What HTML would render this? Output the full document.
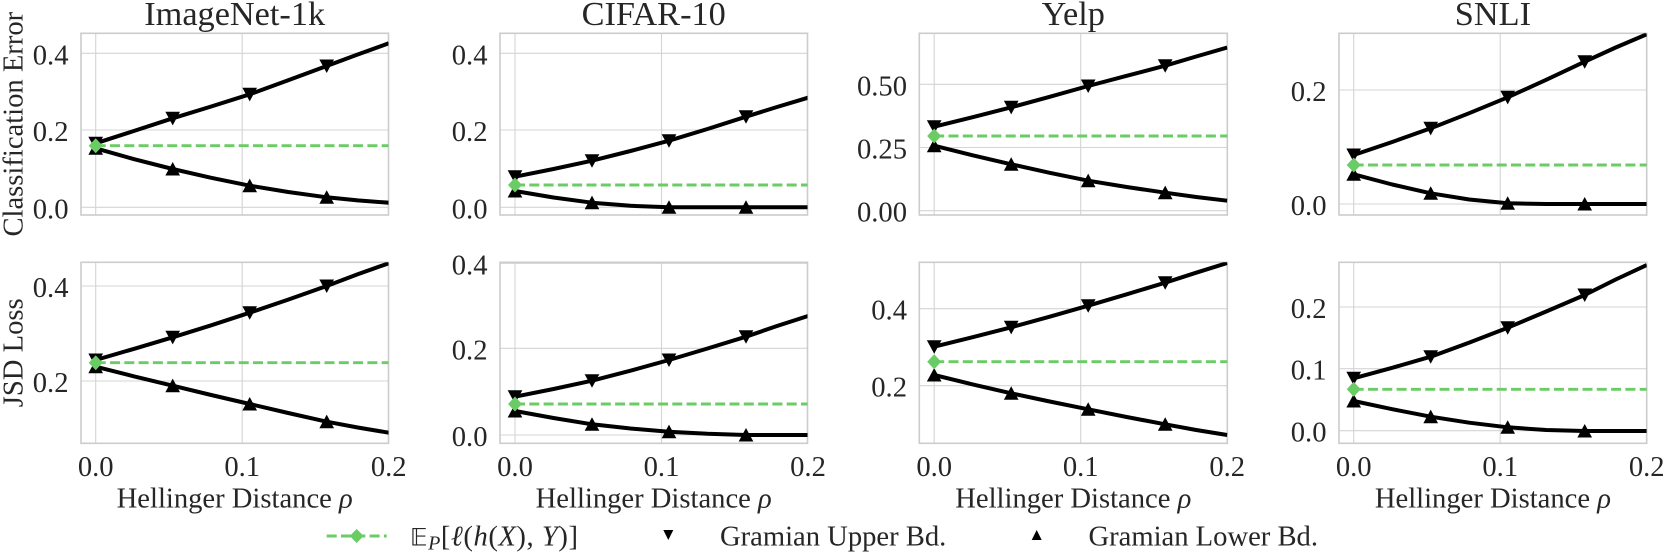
<!DOCTYPE html>
<html><head><meta charset="utf-8"><style>
html,body{margin:0;padding:0;background:#fff;}
svg{display:block;}
svg text, svg tspan{font-family:"Liberation Serif","DejaVu Serif",serif !important;fill:#262626;}
svg tspan.bb{font-family:"DejaVu Sans",sans-serif !important;}
</style></head><body>
<svg width="1666" height="553" viewBox="0 0 1666 553" xmlns="http://www.w3.org/2000/svg" font-family="'Liberation Serif', serif">
<defs>
<path id="td" d="M-6.5,-6 L6.5,-6 L0,6 Z" fill="#000" stroke="#000" stroke-width="1"/>
<path id="tu" d="M-6.5,6 L6.5,6 L0,-6 Z" fill="#000" stroke="#000" stroke-width="1"/>
<path id="dm" d="M0,-7.5 L7,0 L0,7.5 L-7,0 Z" fill="#6acc64"/>
<path id="tdl" d="M-5,-5 L5,-5 L0,5 Z" fill="#000"/>
<path id="tul" d="M-5,5 L5,5 L0,-5 Z" fill="#000"/>
<path id="dml" d="M0,-7 L7,0 L0,7 L-7,0 Z" fill="#6acc64"/>
<clipPath id="c1"><rect x="81" y="33.3" width="307.5" height="181.7"/></clipPath>
<clipPath id="c2"><rect x="500" y="33.3" width="307.5" height="181.7"/></clipPath>
<clipPath id="c3"><rect x="919.3" y="33.3" width="308" height="181.7"/></clipPath>
<clipPath id="c4"><rect x="1339" y="33.3" width="307.7" height="181.7"/></clipPath>
<clipPath id="c5"><rect x="81" y="262.3" width="307.5" height="181"/></clipPath>
<clipPath id="c6"><rect x="500" y="262.3" width="307.5" height="181"/></clipPath>
<clipPath id="c7"><rect x="919.3" y="262.3" width="308" height="181"/></clipPath>
<clipPath id="c8"><rect x="1339" y="262.3" width="307.7" height="181"/></clipPath>
</defs>
<rect x="0" y="0" width="1666" height="553" fill="#fff"/>

<!-- grids -->
<g stroke="#d4d4d4" stroke-width="1.1" fill="none">
<line x1="95.7" y1="33.3" x2="95.7" y2="215"/><line x1="242.2" y1="33.3" x2="242.2" y2="215"/>
<line x1="81" y1="207.3" x2="388.5" y2="207.3"/><line x1="81" y1="130" x2="388.5" y2="130"/><line x1="81" y1="53.3" x2="388.5" y2="53.3"/>
<line x1="515" y1="33.3" x2="515" y2="215"/><line x1="661.5" y1="33.3" x2="661.5" y2="215"/>
<line x1="500" y1="207.3" x2="807.5" y2="207.3"/><line x1="500" y1="130" x2="807.5" y2="130"/><line x1="500" y1="53.3" x2="807.5" y2="53.3"/>
<line x1="934.2" y1="33.3" x2="934.2" y2="215"/><line x1="1080.7" y1="33.3" x2="1080.7" y2="215"/>
<line x1="919.3" y1="210.7" x2="1227.3" y2="210.7"/><line x1="919.3" y1="147.5" x2="1227.3" y2="147.5"/><line x1="919.3" y1="84.3" x2="1227.3" y2="84.3"/>
<line x1="1353.7" y1="33.3" x2="1353.7" y2="215"/><line x1="1500.2" y1="33.3" x2="1500.2" y2="215"/>
<line x1="1339" y1="204" x2="1646.7" y2="204"/><line x1="1339" y1="90" x2="1646.7" y2="90"/>
<line x1="95.7" y1="262.3" x2="95.7" y2="443.3"/><line x1="242.2" y1="262.3" x2="242.2" y2="443.3"/>
<line x1="81" y1="381" x2="388.5" y2="381"/><line x1="81" y1="286" x2="388.5" y2="286"/>
<line x1="515" y1="262.3" x2="515" y2="443.3"/><line x1="661.5" y1="262.3" x2="661.5" y2="443.3"/>
<line x1="500" y1="435" x2="807.5" y2="435"/><line x1="500" y1="348.3" x2="807.5" y2="348.3"/><line x1="500" y1="263.3" x2="807.5" y2="263.3"/>
<line x1="934.2" y1="262.3" x2="934.2" y2="443.3"/><line x1="1080.7" y1="262.3" x2="1080.7" y2="443.3"/>
<line x1="919.3" y1="385.7" x2="1227.3" y2="385.7"/><line x1="919.3" y1="308.7" x2="1227.3" y2="308.7"/>
<line x1="1353.7" y1="262.3" x2="1353.7" y2="443.3"/><line x1="1500.2" y1="262.3" x2="1500.2" y2="443.3"/>
<line x1="1339" y1="430.7" x2="1646.7" y2="430.7"/><line x1="1339" y1="368.7" x2="1646.7" y2="368.7"/><line x1="1339" y1="307" x2="1646.7" y2="307"/>
</g>

<!-- frames -->
<g stroke="#cccccc" stroke-width="1.6" fill="none">
<rect x="81" y="33.3" width="307.5" height="181.7"/>
<rect x="500" y="33.3" width="307.5" height="181.7"/>
<rect x="919.3" y="33.3" width="308" height="181.7"/>
<rect x="1339" y="33.3" width="307.7" height="181.7"/>
<rect x="81" y="262.3" width="307.5" height="181"/>
<rect x="500" y="262.3" width="307.5" height="181"/>
<rect x="919.3" y="262.3" width="308" height="181"/>
<rect x="1339" y="262.3" width="307.7" height="181"/>
</g>

<!-- series -->
<g fill="none" stroke="#000" stroke-width="4" stroke-linejoin="round">
<g clip-path="url(#c1)">
<polyline points="95.7,143.3 134.2,130.9 172.7,118.3 211.2,106.5 249.7,94.3 288.2,80.3 326.7,66 357.7,54.5 388.7,43.3"/>
<polyline points="95.7,148.3 134.2,159.2 172.7,169 211.2,177.8 249.7,185.7 288.2,192 326.7,197.3 357.7,200.4 388.7,202.7"/>
</g>
<g clip-path="url(#c2)">
<polyline points="515,176.7 553.5,169 592,160.7 630.5,151 669,140.7 707.5,129 746,116.7 777,107 808,97.7"/>
<polyline points="515,191 553.5,197.5 592,202.7 630.5,205.8 669,207.3 707.5,207.3 746,207.3 777,207.3 808,207.3"/>
</g>
<g clip-path="url(#c3)">
<polyline points="934.2,126.7 972.7,117.2 1011.2,107.3 1049.7,96.8 1088.2,86 1126.7,75.8 1165.2,65.7 1196.2,56.5 1227.2,47.5"/>
<polyline points="934.2,145.7 972.7,155.3 1011.2,164.3 1049.7,172.8 1088.2,180.7 1126.7,187 1165.2,192.7 1196.2,197 1227.2,200.7"/>
</g>
<g clip-path="url(#c4)">
<polyline points="1353.7,155 1392.2,142 1430.7,128.3 1469.2,113.2 1507.7,97.3 1546.2,79.8 1584.7,61.7 1615.7,47.5 1646.7,34.3"/>
<polyline points="1353.7,174.3 1392.2,184.5 1430.7,193.3 1469.2,199.5 1507.7,203.3 1546.2,204 1584.7,204 1615.7,204 1646.7,204"/>
</g>
<g clip-path="url(#c5)">
<polyline points="95.7,360 134.2,348.8 172.7,337.3 211.2,325.3 249.7,312.7 288.2,299.6 326.7,286 357.7,274.3 388.7,263.3"/>
<polyline points="95.7,366.7 134.2,376.4 172.7,385.7 211.2,395 249.7,404 288.2,413 326.7,421.7 357.7,427.5 388.7,432.7"/>
</g>
<g clip-path="url(#c6)">
<polyline points="515,396.7 553.5,389 592,380.7 630.5,370.7 669,360 707.5,348.5 746,336.7 777,326 808,316"/>
<polyline points="515,411 553.5,418 592,424.3 630.5,428.5 669,431.7 707.5,433.8 746,435 777,435 808,435"/>
</g>
<g clip-path="url(#c7)">
<polyline points="934.2,346.7 972.7,337.2 1011.2,327.3 1049.7,316.7 1088.2,305.7 1126.7,294.3 1165.2,282.7 1196.2,272.7 1227.2,263"/>
<polyline points="934.2,375 972.7,384.4 1011.2,393.3 1049.7,401.5 1088.2,409.3 1126.7,417 1165.2,424.3 1196.2,430 1227.2,435"/>
</g>
<g clip-path="url(#c8)">
<polyline points="1353.7,378.3 1392.2,367.8 1430.7,356.7 1469.2,342.6 1507.7,327.7 1546.2,311.5 1584.7,295 1615.7,279.5 1646.7,265"/>
<polyline points="1353.7,401 1392.2,409.2 1430.7,416.7 1469.2,422.7 1507.7,427.3 1546.2,430 1584.7,431 1615.7,431 1646.7,431"/>
</g>
</g>

<!-- black markers -->
<g>
<use href="#td" x="95.7" y="143.3"/><use href="#td" x="172.7" y="118.3"/><use href="#td" x="249.7" y="94.3"/><use href="#td" x="326.7" y="66"/>
<use href="#tu" x="95.7" y="148.3"/><use href="#tu" x="172.7" y="169"/><use href="#tu" x="249.7" y="185.7"/><use href="#tu" x="326.7" y="197.3"/>
<use href="#td" x="515" y="176.7"/><use href="#td" x="592" y="160.7"/><use href="#td" x="669" y="140.7"/><use href="#td" x="746" y="116.7"/>
<use href="#tu" x="515" y="191"/><use href="#tu" x="592" y="202.7"/><use href="#tu" x="669" y="207.3"/><use href="#tu" x="746" y="207.3"/>
<use href="#td" x="934.2" y="126.7"/><use href="#td" x="1011.2" y="107.3"/><use href="#td" x="1088.2" y="86"/><use href="#td" x="1165.2" y="65.7"/>
<use href="#tu" x="934.2" y="145.7"/><use href="#tu" x="1011.2" y="164.3"/><use href="#tu" x="1088.2" y="180.7"/><use href="#tu" x="1165.2" y="192.7"/>
<use href="#td" x="1353.7" y="155"/><use href="#td" x="1430.7" y="128.3"/><use href="#td" x="1507.7" y="97.3"/><use href="#td" x="1584.7" y="61.7"/>
<use href="#tu" x="1353.7" y="174.3"/><use href="#tu" x="1430.7" y="193.3"/><use href="#tu" x="1507.7" y="203.3"/><use href="#tu" x="1584.7" y="204"/>
<use href="#td" x="95.7" y="360"/><use href="#td" x="172.7" y="337.3"/><use href="#td" x="249.7" y="312.7"/><use href="#td" x="326.7" y="286"/>
<use href="#tu" x="95.7" y="366.7"/><use href="#tu" x="172.7" y="385.7"/><use href="#tu" x="249.7" y="404"/><use href="#tu" x="326.7" y="421.7"/>
<use href="#td" x="515" y="396.7"/><use href="#td" x="592" y="380.7"/><use href="#td" x="669" y="360"/><use href="#td" x="746" y="336.7"/>
<use href="#tu" x="515" y="411"/><use href="#tu" x="592" y="424.3"/><use href="#tu" x="669" y="431.7"/><use href="#tu" x="746" y="435"/>
<use href="#td" x="934.2" y="346.7"/><use href="#td" x="1011.2" y="327.3"/><use href="#td" x="1088.2" y="305.7"/><use href="#td" x="1165.2" y="282.7"/>
<use href="#tu" x="934.2" y="375"/><use href="#tu" x="1011.2" y="393.3"/><use href="#tu" x="1088.2" y="409.3"/><use href="#tu" x="1165.2" y="424.3"/>
<use href="#td" x="1353.7" y="378.3"/><use href="#td" x="1430.7" y="356.7"/><use href="#td" x="1507.7" y="327.7"/><use href="#td" x="1584.7" y="295"/>
<use href="#tu" x="1353.7" y="401"/><use href="#tu" x="1430.7" y="416.7"/><use href="#tu" x="1507.7" y="427.3"/><use href="#tu" x="1584.7" y="431"/>
</g>

<!-- green mean lines -->
<g stroke="#6acc64" stroke-width="2.9" stroke-dasharray="10 4.3" fill="none">
<line x1="95.7" y1="145.7" x2="388.5" y2="145.7"/>
<line x1="515" y1="185" x2="807.5" y2="185"/>
<line x1="934.2" y1="136" x2="1227.3" y2="136"/>
<line x1="1353.7" y1="165" x2="1646.7" y2="165"/>
<line x1="95.7" y1="362.7" x2="388.5" y2="362.7"/>
<line x1="515" y1="404" x2="807.5" y2="404"/>
<line x1="934.2" y1="361.7" x2="1227.3" y2="361.7"/>
<line x1="1353.7" y1="389.3" x2="1646.7" y2="389.3"/>
</g>
<g>
<use href="#dm" x="95.7" y="145.7"/><use href="#dm" x="515" y="185"/><use href="#dm" x="934.2" y="136"/><use href="#dm" x="1353.7" y="165"/>
<use href="#dm" x="95.7" y="362.7"/><use href="#dm" x="515" y="404"/><use href="#dm" x="934.2" y="361.7"/><use href="#dm" x="1353.7" y="389.3"/>
</g>

<!-- titles -->
<g font-family="'Liberation Serif', serif" font-size="34.3" text-anchor="middle" fill="#262626">
<text x="234.7" y="25">ImageNet-1k</text>
<text x="653.7" y="25">CIFAR-10</text>
<text x="1073.3" y="25">Yelp</text>
<text x="1492.9" y="25">SNLI</text>
</g>

<!-- y tick labels -->
<g font-family="'Liberation Serif', serif" font-size="28.6" text-anchor="end" fill="#262626">
<text x="68.5" y="218.3">0.0</text><text x="68.5" y="141">0.2</text><text x="68.5" y="64.3">0.4</text>
<text x="487.5" y="218.3">0.0</text><text x="487.5" y="141">0.2</text><text x="487.5" y="64.3">0.4</text>
<text x="907" y="221.7">0.00</text><text x="907" y="158.5">0.25</text><text x="907" y="95.3">0.50</text>
<text x="1326.5" y="215">0.0</text><text x="1326.5" y="101">0.2</text>
<text x="68.5" y="392">0.2</text><text x="68.5" y="297">0.4</text>
<text x="487.5" y="446">0.0</text><text x="487.5" y="359.3">0.2</text><text x="487.5" y="274.3">0.4</text>
<text x="907" y="396.7">0.2</text><text x="907" y="319.7">0.4</text>
<text x="1326.5" y="441.7">0.0</text><text x="1326.5" y="379.7">0.1</text><text x="1326.5" y="318">0.2</text>
</g>

<!-- x tick labels -->
<g font-family="'Liberation Serif', serif" font-size="28.6" text-anchor="middle" fill="#262626">
<text x="95.7" y="476">0.0</text><text x="242.2" y="476">0.1</text><text x="388.7" y="476">0.2</text>
<text x="515" y="476">0.0</text><text x="661.5" y="476">0.1</text><text x="808" y="476">0.2</text>
<text x="934.2" y="476">0.0</text><text x="1080.7" y="476">0.1</text><text x="1227.2" y="476">0.2</text>
<text x="1353.7" y="476">0.0</text><text x="1500.2" y="476">0.1</text><text x="1646.7" y="476">0.2</text>
</g>

<!-- x labels -->
<g font-family="'Liberation Serif', serif" font-size="28.6" text-anchor="middle" fill="#262626">
<text x="234.7" y="507.5">Hellinger Distance <tspan font-style="italic">ρ</tspan></text>
<text x="653.7" y="507.5">Hellinger Distance <tspan font-style="italic">ρ</tspan></text>
<text x="1073.3" y="507.5">Hellinger Distance <tspan font-style="italic">ρ</tspan></text>
<text x="1492.9" y="507.5">Hellinger Distance <tspan font-style="italic">ρ</tspan></text>
</g>

<!-- y labels -->
<g font-family="'Liberation Serif', serif" font-size="28.6" text-anchor="middle" fill="#262626">
<text transform="translate(22.5,124.2) rotate(-90)">Classification Error</text>
<text transform="translate(22.5,352.8) rotate(-90)">JSD Loss</text>
</g>

<!-- legend -->
<line x1="326.7" y1="536" x2="386.7" y2="536" stroke="#6acc64" stroke-width="2.9" stroke-dasharray="10 4.3"/>
<use href="#dml" x="356.7" y="536"/>
<g font-family="'Liberation Serif', serif" font-size="28.6" fill="#262626">
<text x="410" y="545.5" textLength="168" lengthAdjust="spacing"><tspan class="bb" font-family="'DejaVu Sans', sans-serif" font-size="24">𝔼</tspan><tspan font-style="italic" font-size="20" dy="4">P</tspan><tspan dy="-4">[</tspan><tspan font-style="italic">ℓ</tspan>(<tspan font-style="italic">h</tspan>(<tspan font-style="italic">X</tspan>), <tspan font-style="italic">Y</tspan>)]</text>
<text x="720" y="545.5">Gramian Upper Bd.</text>
<text x="1088.5" y="545.5">Gramian Lower Bd.</text>
</g>
<use href="#tdl" x="668.3" y="535"/>
<use href="#tul" x="1036.7" y="535"/>
</svg>
</body></html>
